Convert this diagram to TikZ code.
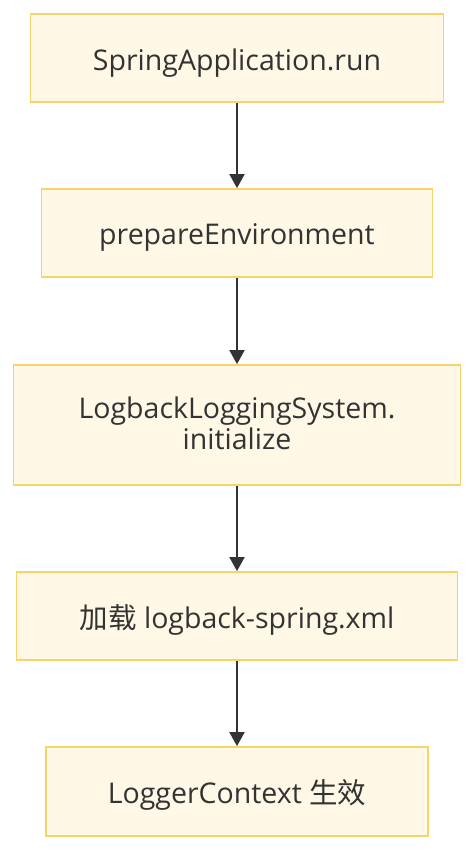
\documentclass[tikz,border=0pt]{standalone}
\usepackage{fontspec}
\setmainfont{Open Sans}
\newfontfamily\cjk{Noto Sans CJK SC}
\usetikzlibrary{arrows.meta}
\definecolor{boxfill}{HTML}{FFF8E6}
\definecolor{boxdraw}{HTML}{F7D36A}
\definecolor{ink}{HTML}{333333}
\tikzset{
  stepbox/.style={draw=boxdraw, fill=boxfill, line width=1.8pt, rectangle, inner sep=0pt},
  steptext/.style={anchor=base, inner sep=0pt, text=ink, font=\fontsize{28.5}{31}\selectfont},
  flowarrow/.style={draw=ink, line width=2pt, -{Triangle[length=14pt,width=15pt]}}
}
\begin{document}
\begin{tikzpicture}[x=1pt,y=-1pt]
\useasboundingbox (0,0) rectangle (474,852);
\node[stepbox, minimum width=413pt, minimum height=88pt] (b1) at (237,58) {};
\node[stepbox, minimum width=391pt, minimum height=88pt] (b2) at (237,233) {};
\node[stepbox, minimum width=447pt, minimum height=120pt] (b3) at (237,425) {};
\node[stepbox, minimum width=441pt, minimum height=88pt] (b4) at (237,616) {};
\node[stepbox, minimum width=382pt, minimum height=89pt] (b5) at (237,791.5) {};
\node[steptext] (t1) at (237,70) {SpringApplication.run};
\node[steptext] (t2) at (237,244) {prepareEnvironment};
\node[steptext] (t3a) at (237,418) {LogbackLoggingSystem.};
\node[steptext] (t3b) at (237,449) {initialize};
\node[steptext] (t4) at (237,628) {{\cjk 加载} logback-spring.xml};
\node[steptext] (t5) at (237,803) {LoggerContext {\cjk 生效}};
\draw[flowarrow] (b1.south) -- (b2.north);
\draw[flowarrow] (b2.south) -- (b3.north);
\draw[flowarrow] (b3.south) -- (b4.north);
\draw[flowarrow] (b4.south) -- (b5.north);
\end{tikzpicture}
\end{document}
